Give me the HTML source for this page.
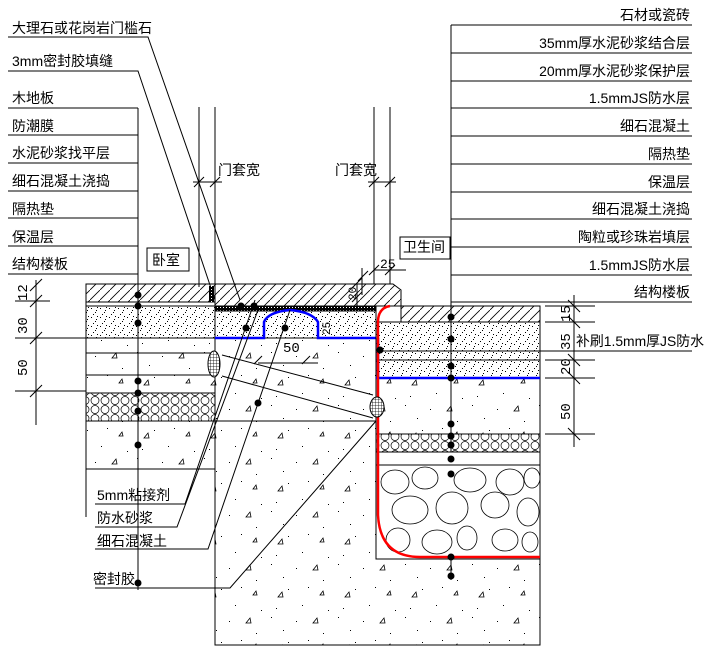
<!DOCTYPE html>
<html><head><meta charset="utf-8"><style>
html,body{margin:0;padding:0;background:#fff}
svg{display:block}
text{font-family:"Liberation Sans","Noto Sans CJK SC",sans-serif;font-size:14px;fill:#000}
.m{font-family:"Liberation Mono","Noto Sans CJK SC",monospace;font-size:14px}
</style></head><body>
<svg width="713" height="654" viewBox="0 0 713 654" xmlns="http://www.w3.org/2000/svg">
<defs>
<pattern id="sand" width="9" height="9" patternUnits="userSpaceOnUse">
<rect x="1" y="2" width="1" height="1" fill="#000"/><rect x="5" y="6" width="1" height="1" fill="#000"/><rect x="7" y="1" width="1" height="1" fill="#000"/><rect x="3" y="8" width="1" height="1" fill="#000"/><rect x="6" y="4" width="1" height="1" fill="#000"/>
</pattern>
<pattern id="conc" width="67" height="53" patternUnits="userSpaceOnUse">
<path d="M10 14 l4 -5 l1 5 z M45 40 l4 -5 l1 5 z M52 12 l3 -4 l1 4 z" fill="none" stroke="#000" stroke-width="0.8"/>
<rect x="20" y="6" width="1" height="1" fill="#000"/><rect x="3" y="34" width="1" height="1" fill="#000"/><rect x="34" y="22" width="1" height="1" fill="#000"/><rect x="15" y="47" width="1" height="1" fill="#000"/><rect x="60" y="27" width="1" height="1" fill="#000"/><rect x="28" y="38" width="1" height="1" fill="#000"/><rect x="40" y="4" width="1" height="1" fill="#000"/><rect x="55" y="50" width="1" height="1" fill="#000"/><rect x="8" y="25" width="1" height="1" fill="#000"/>
</pattern>
<pattern id="hex" width="10" height="9" patternUnits="userSpaceOnUse">
<circle cx="5" cy="4.5" r="4" fill="none" stroke="#000" stroke-width="0.7"/>
</pattern>
<pattern id="hatch" width="10" height="10" patternUnits="userSpaceOnUse">
<path d="M0 10 L10 0" stroke="#000" stroke-width="0.8"/>
</pattern>
<pattern id="dark" width="3" height="3" patternUnits="userSpaceOnUse">
<rect width="3" height="3" fill="#000"/><rect x="1" y="1" width="1" height="1" fill="#fff"/>
</pattern>
<pattern id="seal" width="3" height="3" patternUnits="userSpaceOnUse">
<rect width="3" height="3" fill="#fff"/><path d="M0 0H3M0 0V3" stroke="#000" stroke-width="0.8"/>
</pattern>
</defs>

<g stroke="#000" stroke-width="1" fill="none">
<path d="M451 25H692M451 53H692M451 81H692M451 108H692M451 136H692M451 164H692M451 192H692M451 219H692M451 247H692M451 275H692M451 302H692M451 25V580"/>
<path d="M8 37H148L240 300M8 71H138L215 300M8 108H138M8 135H138M8 163H138M8 191H138M8 218H138M8 246H138M8 274H138M138 108V590"/>
<path d="M199 107V287M215 107V287M374 107V284M390 107V284"/>
<path d="M193 182H222M194 187l10 -10M210 187l10 -10M368 182H396M369 187l10 -10M385 187l10 -10"/>
<path d="M374 270H406M369 275l10 -10M385 275l10 -10M358 281l10 -10 M362 268V295"/>
</g>

<!-- big concrete -->
<path d="M215 338V645H540V559H376V338Z" fill="url(#conc)" stroke="#000"/>
<!-- LEFT floor -->
<rect x="86" y="284" width="129" height="18" fill="url(#hatch)" stroke="#000"/>
<rect x="86" y="302" width="129" height="4" fill="#fff" stroke="#000"/>
<rect x="86" y="306" width="129" height="32" fill="url(#sand)" stroke="#000"/>
<rect x="86" y="338" width="129" height="55" fill="url(#conc)" stroke="#000"/>
<path d="M86 353H215M86 375H215" stroke="#000"/>
<rect x="86" y="393" width="129" height="28" fill="url(#hex)" stroke="#000"/>
<rect x="86" y="421" width="129" height="48" fill="url(#conc)" stroke="#000"/>
<path d="M86 469V517" stroke="#000"/>
<rect x="209" y="286" width="5" height="16" fill="url(#dark)"/>
<rect x="376" y="378" width="164" height="56" fill="url(#conc)" stroke="#000"/>
<path d="M86 421H376" stroke="#000"/>
<!-- threshold -->
<path d="M215 284H393L401 290V306H215Z" fill="url(#hatch)" stroke="#000"/>
<rect x="215" y="306" width="161" height="5" fill="url(#dark)" stroke="#000"/>
<rect x="215" y="311" width="161" height="27" fill="url(#sand)" stroke="#000"/>
<path d="M215 338H264V322Q268 312 290 310Q312 312 318 322V338H376" stroke="#00f" stroke-width="2.5" fill="none"/>
<!-- RIGHT floor -->
<rect x="401" y="306" width="139" height="16" fill="url(#hatch)" stroke="#000"/>
<rect x="376" y="322" width="164" height="29" fill="url(#sand)" stroke="#000"/>
<rect x="376" y="351" width="164" height="27" fill="url(#sand)" stroke="#000"/>
<path d="M376 360H540" stroke="#000"/>
<rect x="376" y="434" width="164" height="18" fill="url(#hex)" stroke="#000"/>
<rect x="376" y="452" width="164" height="13" fill="#fff" stroke="#000"/>
<rect x="376" y="465" width="164" height="94" fill="#fff" stroke="#000"/>
<g fill="none" stroke="#000" stroke-width="0.8">
<ellipse cx="395" cy="482" rx="14" ry="12"/><ellipse cx="425" cy="478" rx="13" ry="11"/><ellipse cx="470" cy="480" rx="16" ry="12"/><ellipse cx="510" cy="482" rx="14" ry="13"/><ellipse cx="532" cy="478" rx="8" ry="10"/>
<ellipse cx="410" cy="510" rx="18" ry="14"/><ellipse cx="452" cy="508" rx="16" ry="16"/><ellipse cx="495" cy="505" rx="14" ry="13"/><ellipse cx="528" cy="512" rx="11" ry="14"/>
<ellipse cx="398" cy="540" rx="12" ry="12"/><ellipse cx="437" cy="542" rx="15" ry="12"/><ellipse cx="467" cy="538" rx="10" ry="12"/><ellipse cx="505" cy="540" rx="13" ry="11"/><ellipse cx="530" cy="542" rx="8" ry="10"/>
</g>
<path d="M376 378H540" stroke="#00f" stroke-width="2.5"/>
<path d="M378 338V378" stroke="#00f" stroke-width="2.5"/>
<path d="M390 306Q378 308 378 322V515Q380 557 420 557H540" stroke="#f00" stroke-width="2.5" fill="none"/>
<path d="M222 355L373 395M222 376L373 418" stroke="#000"/>
<ellipse cx="214" cy="364" rx="6" ry="13" fill="url(#seal)" stroke="#000"/>
<ellipse cx="377" cy="407" rx="7" ry="10" fill="url(#seal)" stroke="#000"/>
<g stroke="#000" fill="none">
<path d="M95 504H185L255 300M95 527H177L258 310M95 549H208L290 310M95 588H230L376 421"/>
<path d="M258 363H318M262 356l-8 8M310 356l-8 8"/>
</g>
<g fill="#000">
<circle cx="138" cy="295" r="3.5"/><circle cx="138" cy="306" r="3.5"/><circle cx="138" cy="323" r="3.5"/><circle cx="138" cy="381" r="3.5"/><circle cx="138" cy="393" r="3.5"/><circle cx="138" cy="411" r="3.5"/><circle cx="138" cy="445" r="3.5"/><circle cx="138" cy="583" r="3.5"/>
<circle cx="451" cy="317" r="3.5"/><circle cx="451" cy="339" r="3.5"/><circle cx="451" cy="366" r="3.5"/><circle cx="451" cy="378" r="3.5"/><circle cx="451" cy="424" r="3.5"/><circle cx="451" cy="436" r="3.5"/><circle cx="451" cy="445" r="3.5"/><circle cx="451" cy="459" r="3.5"/><circle cx="451" cy="474" r="3.5"/><circle cx="451" cy="557" r="3.5"/><circle cx="451" cy="576" r="3.5"/>
<circle cx="241" cy="306" r="3.5"/><circle cx="254" cy="306" r="3.5"/><circle cx="246" cy="328" r="3.5"/><circle cx="285" cy="328" r="3.5"/><circle cx="258" cy="403" r="3.5"/><circle cx="380" cy="350" r="3.5"/>
</g>
<g stroke="#000" fill="none">
<path d="M36 280V425M15 301H50M15 338H215M15 391H86M30 291l12 -12M30 307l12 -12M30 344l12 -12M30 397l12 -12"/>
<path d="M574 295V447M545 306H595M545 322H595M540 351H692M545 360H595M545 378H595M545 434H595M568 300l12 12M568 316l12 12M568 354l12 12M568 372l12 12M568 428l12 12"/>
<path d="M357 284V310M352 288l10 -10M352 302l10 -10"/>
</g>
<g>
<text transform="translate(27,301) rotate(-90)" class="m">12</text>
<text transform="translate(27,334) rotate(-90)" class="m">30</text>
<text transform="translate(27,376) rotate(-90)" class="m">50</text>
<text transform="translate(570,322) rotate(-90)" class="m">15</text>
<text transform="translate(570,350) rotate(-90)" class="m">35</text>
<text transform="translate(570,375) rotate(-90)" class="m">20</text>
<text transform="translate(570,420) rotate(-90)" class="m">50</text>
<text transform="translate(356,300) rotate(-90)" class="m" style="font-size:11px">20</text>
<text transform="translate(330,335) rotate(-90)" class="m" style="font-size:11px">25</text>
<text x="283" y="352" class="m">50</text>
<text x="380" y="268" class="m" style="font-size:13px">25</text>
</g>
<g>
<text x="12" y="33">大理石或花岗岩门槛石</text>
<text x="12" y="66">3mm密封胶填缝</text>
<text x="12" y="103">木地板</text>
<text x="12" y="131">防潮膜</text>
<text x="12" y="158">水泥砂浆找平层</text>
<text x="12" y="186">细石混凝土浇捣</text>
<text x="12" y="214">隔热垫</text>
<text x="12" y="242">保温层</text>
<text x="12" y="269">结构楼板</text>
<text x="218" y="175">门套宽</text>
<text x="335" y="175">门套宽</text>
<text x="152" y="265">卧室</text>
<text x="403" y="252">卫生间</text>
<text x="97" y="500">5mm粘接剂</text>
<text x="97" y="523">防水砂浆</text>
<text x="97" y="546">细石混凝土</text>
<text x="93" y="584">密封胶</text>
<text x="576" y="346" textLength="128" lengthAdjust="spacingAndGlyphs">补刷1.5mm厚JS防水</text>
</g>
<rect x="147" y="248" width="42" height="23" fill="none" stroke="#000"/>
<rect x="400" y="237" width="50" height="22" fill="none" stroke="#000"/>
<g text-anchor="end">
<text x="690" y="20">石材或瓷砖</text>
<text x="690" y="48">35mm厚水泥砂浆结合层</text>
<text x="690" y="76">20mm厚水泥砂浆保护层</text>
<text x="690" y="103">1.5mmJS防水层</text>
<text x="690" y="131">细石混凝土</text>
<text x="690" y="159">隔热垫</text>
<text x="690" y="187">保温层</text>
<text x="690" y="214">细石混凝土浇捣</text>
<text x="690" y="242">陶粒或珍珠岩填层</text>
<text x="690" y="270">1.5mmJS防水层</text>
<text x="690" y="297">结构楼板</text>
</g>
</svg>
</body></html>
